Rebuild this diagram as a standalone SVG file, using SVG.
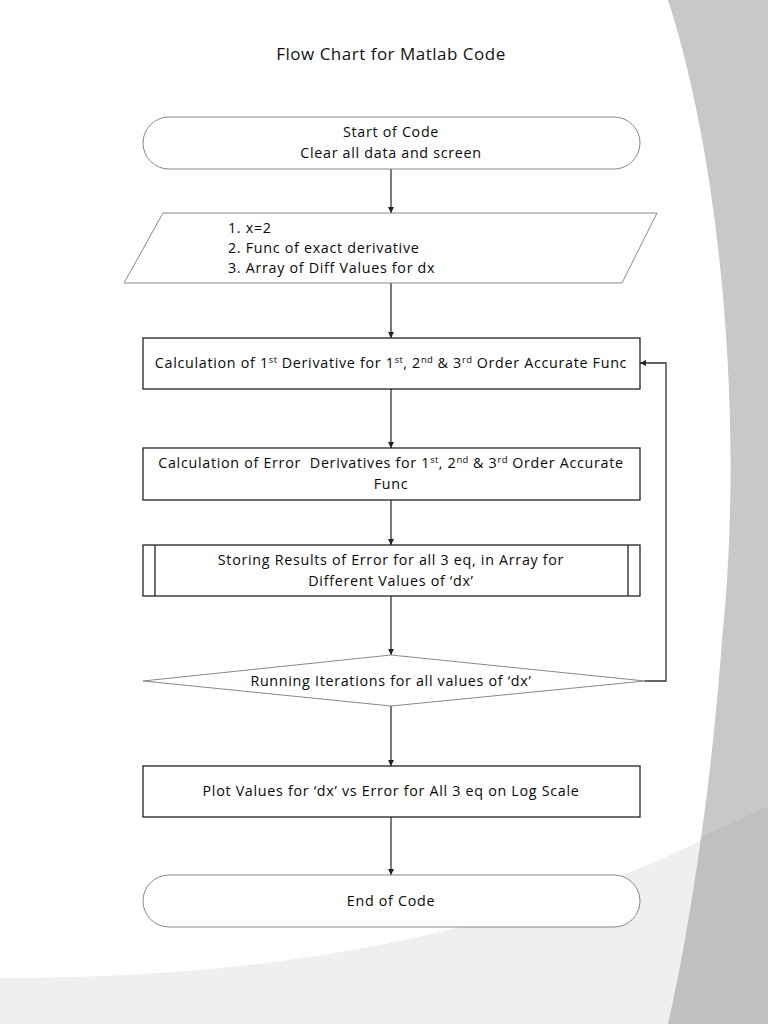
<svg xmlns="http://www.w3.org/2000/svg" width="768" height="1024" viewBox="0 0 768 1024">
  <defs>
    <style>
      .t { font-family: "Open Sans", "Liberation Sans", sans-serif; font-size: 14.3px; fill: #0a0a0a; white-space: pre; letter-spacing: 0.7px; }
      .title { font-family: "Open Sans", "Liberation Sans", sans-serif; font-size: 17px; fill: #111; letter-spacing: 0.5px; }
      .box { fill: #fff; stroke: #222; stroke-width: 1.3; }
      .soft { fill: #fff; stroke: #888; stroke-width: 1; }
      .conn { fill: none; stroke: #333; stroke-width: 1.3; }
      .sup { font-size: 9.5px; letter-spacing: 0.3px; }
    </style>
    <marker id="arr" viewBox="0 0 10 10" refX="10" refY="5" markerWidth="6" markerHeight="6" markerUnits="userSpaceOnUse" orient="auto">
      <path d="M0,0 L10,5 L0,10 z" fill="#222"/>
    </marker>
    <clipPath id="darkClip">
      <path d="M668,0 C720,160 745,420 722,640 C712,780 690,930 668,1024 L768,1024 L768,0 Z"/>
    </clipPath>
  </defs>

  <g id="background">
    <rect x="0" y="0" width="768" height="1024" fill="#ffffff"/>
    <path d="M0,978 C250,978 520,945 768,806 L768,1024 L0,1024 Z" fill="#efefef"/>
    <g clip-path="url(#darkClip)">
      <rect x="600" y="0" width="168" height="1024" fill="#c8c8c8"/>
      <path d="M560,880 C640,860 700,840 768,806 L768,1024 L560,1024 Z" fill="#c0c0c0"/>
    </g>
  </g>

  <text id="title" class="title" x="391" y="60" text-anchor="middle">Flow Chart for Matlab Code</text>

  <g id="connectors">
    <line class="conn" x1="391" y1="169" x2="391" y2="213" marker-end="url(#arr)"/>
    <line class="conn" x1="391" y1="283" x2="391" y2="338" marker-end="url(#arr)"/>
    <line class="conn" x1="391" y1="389" x2="391" y2="448" marker-end="url(#arr)"/>
    <line class="conn" x1="391" y1="500" x2="391" y2="545" marker-end="url(#arr)"/>
    <line class="conn" x1="391" y1="596" x2="391" y2="655" marker-end="url(#arr)"/>
    <line class="conn" x1="391" y1="706" x2="391" y2="766" marker-end="url(#arr)"/>
    <line class="conn" x1="391" y1="817" x2="391" y2="875" marker-end="url(#arr)"/>
    <polyline class="conn" points="645,681 666,681 666,363 640,363" marker-end="url(#arr)"/>
  </g>

  <g id="start">
    <rect class="soft" x="143" y="117" width="497" height="52" rx="26" ry="26"/>
    <text class="t" x="391" y="137" text-anchor="middle">Start of Code</text>
    <text class="t" x="391" y="158" text-anchor="middle">Clear all data and screen</text>
  </g>

  <g id="input">
    <polygon class="soft" points="163,213 657,213 622,283 124,283"/>
    <text class="t" x="228" y="233">1. x=2</text>
    <text class="t" x="228" y="253">2. Func of exact derivative</text>
    <text class="t" x="228" y="273">3. Array of Diff Values for dx</text>
  </g>

  <g id="calc1">
    <rect class="box" x="143" y="338" width="497" height="51"/>
    <text class="t" x="391" y="368" text-anchor="middle">Calculation of 1<tspan class="sup" dy="-5">st</tspan><tspan dy="5"> Derivative for 1</tspan><tspan class="sup" dy="-5">st</tspan><tspan dy="5">, 2</tspan><tspan class="sup" dy="-5">nd</tspan><tspan dy="5"> &amp; 3</tspan><tspan class="sup" dy="-5">rd</tspan><tspan dy="5"> Order Accurate Func</tspan></text>
  </g>

  <g id="calc2">
    <rect class="box" x="143" y="448" width="497" height="52"/>
    <text class="t" x="391" y="468" text-anchor="middle">Calculation of Error  Derivatives for 1<tspan class="sup" dy="-5">st</tspan><tspan dy="5">, 2</tspan><tspan class="sup" dy="-5">nd</tspan><tspan dy="5"> &amp; 3</tspan><tspan class="sup" dy="-5">rd</tspan><tspan dy="5"> Order Accurate</tspan></text>
    <text class="t" x="391" y="489" text-anchor="middle">Func</text>
  </g>

  <g id="store">
    <rect class="box" x="143" y="545" width="497" height="51"/>
    <line class="box" x1="155" y1="545" x2="155" y2="596"/>
    <line class="box" x1="628" y1="545" x2="628" y2="596"/>
    <text class="t" x="391" y="565" text-anchor="middle">Storing Results of Error for all 3 eq, in Array for</text>
    <text class="t" x="391" y="586" text-anchor="middle">Different Values of ‘dx’</text>
  </g>

  <g id="decision">
    <polygon class="soft" points="391,655 645,681 391,706 143,681"/>
    <text class="t" x="391" y="686" text-anchor="middle">Running Iterations for all values of ‘dx’</text>
  </g>

  <g id="plot">
    <rect class="box" x="143" y="766" width="497" height="51"/>
    <text class="t" x="391" y="796" text-anchor="middle">Plot Values for ‘dx’ vs Error for All 3 eq on Log Scale</text>
  </g>

  <g id="end">
    <rect class="soft" x="143" y="875" width="497" height="52" rx="26" ry="26"/>
    <text class="t" x="391" y="906" text-anchor="middle">End of Code</text>
  </g>
</svg>
